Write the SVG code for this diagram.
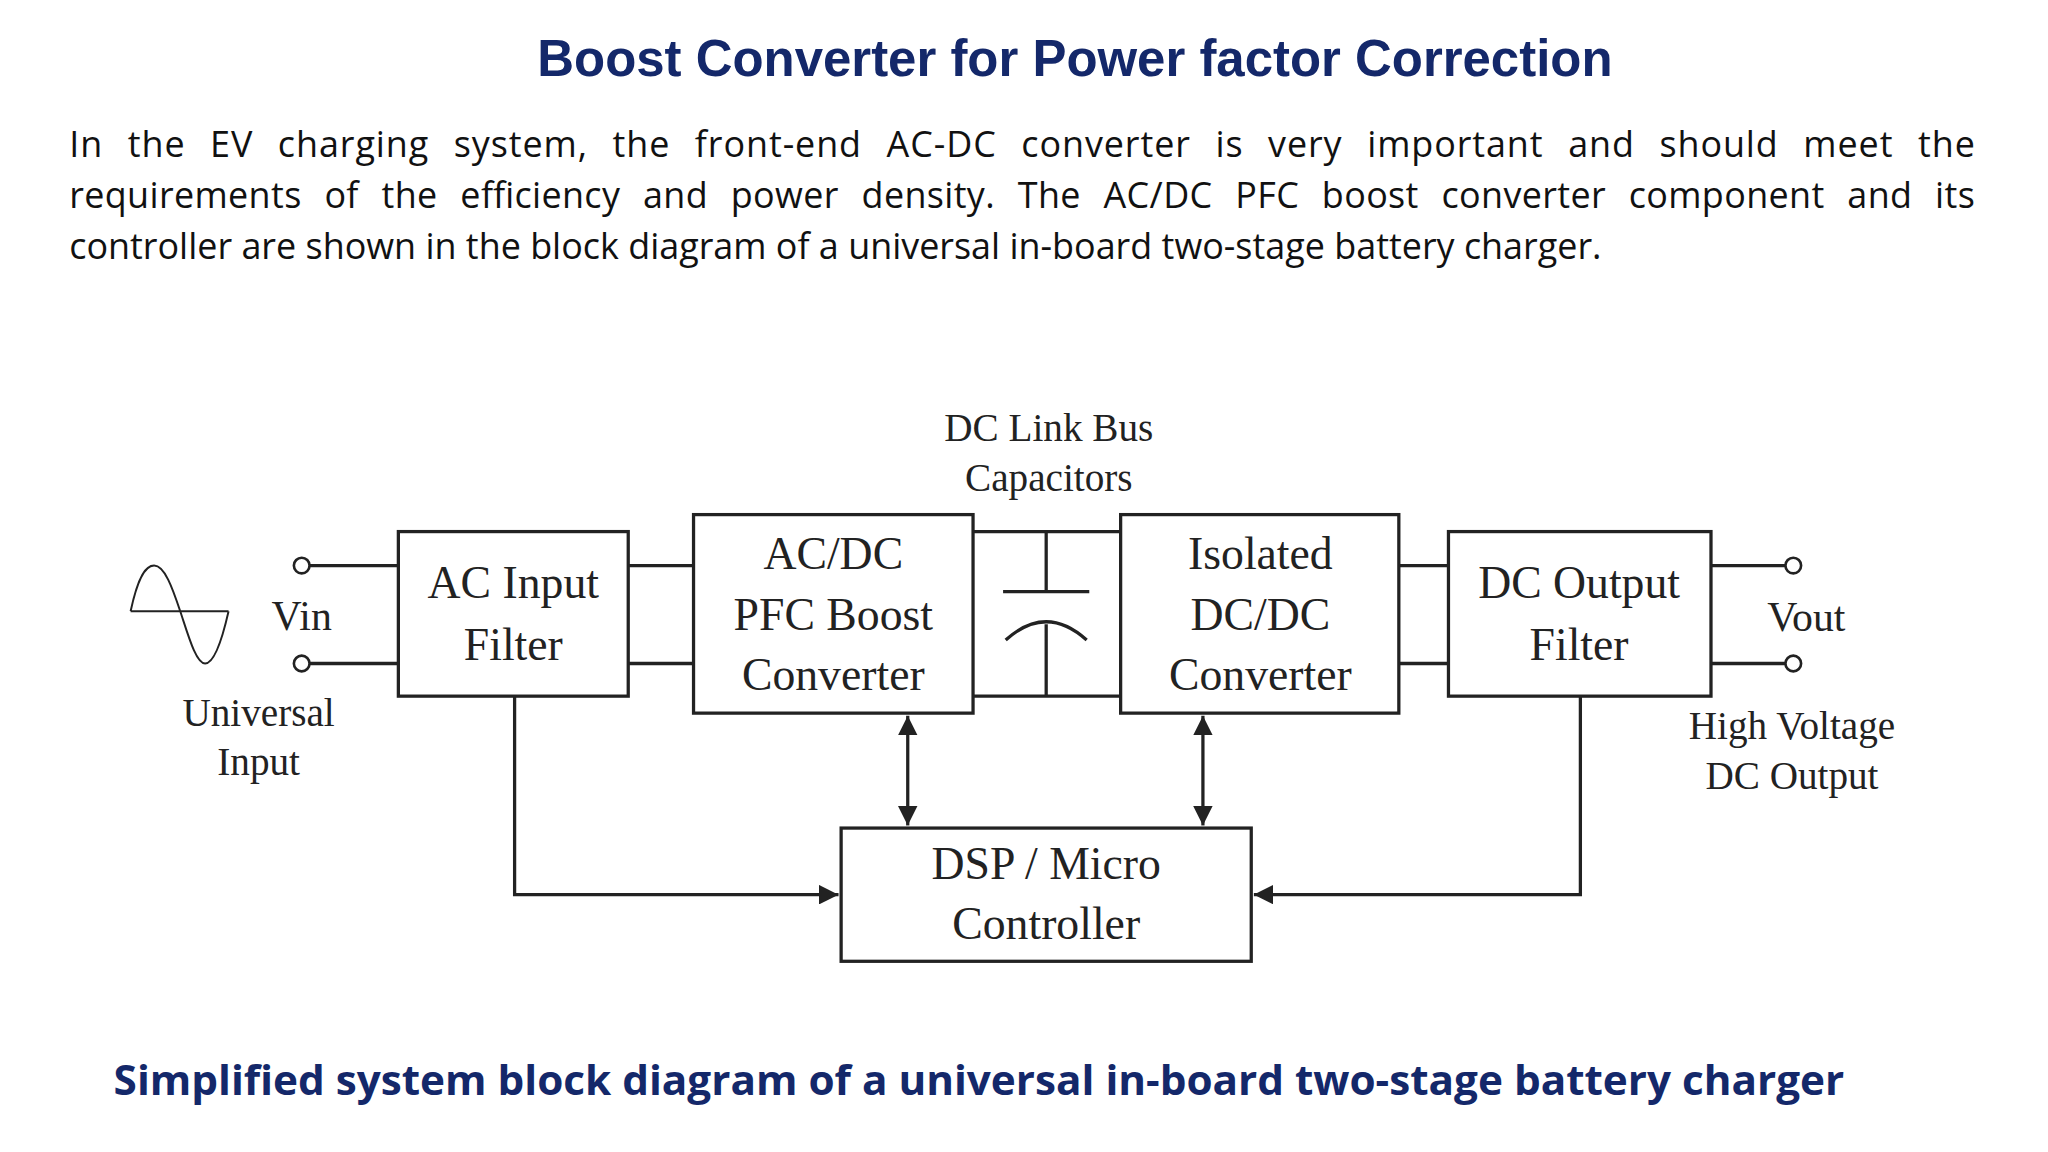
<svg xmlns="http://www.w3.org/2000/svg" width="2048" height="1152" viewBox="0 0 2048 1152">
<style>
.t{font-family:"Liberation Sans",Arial,sans-serif;font-weight:bold;fill:#14286a}
.p{font-family:"Open Sans","Noto Sans",sans-serif;font-size:27.5px;fill:#111}
.s{font-family:"Liberation Serif","Times New Roman",serif;fill:#222;text-anchor:middle}
.b{fill:#fff;stroke:#222;stroke-width:2.5}
.w{fill:none;stroke:#222;stroke-width:2.5}
.c{fill:#fff;stroke:#222;stroke-width:2}
</style>
<defs><marker id="a" viewBox="0 0 10 10" refX="10" refY="5" markerWidth="6" markerHeight="6" orient="auto-start-reverse"><path d="M0,0L10,5L0,10z" fill="#222"/></marker></defs>
<rect width="2048" height="1152" fill="#fff"/>
<g transform="scale(1.3061)">
<text class="t" x="823" y="58" font-size="39" text-anchor="middle">Boost Converter for Power factor Correction</text>
<text class="p" x="53" y="120" word-spacing="11" textLength="1459" lengthAdjust="spacing">In the EV charging system, the front-end AC-DC converter is very important and should meet the</text>
<text class="p" x="53" y="159" word-spacing="10" textLength="1459" lengthAdjust="spacing">requirements of the efficiency and power density. The AC/DC PFC boost converter component and its</text>
<text class="p" x="53" y="198">controller are shown in the block diagram of a universal in-board two-stage battery charger.</text>
<g id="connectors">
<path class="w" d="M237,433H305M237,508H305M481,433H531M481,508H531M745,407H858M745,533H858M1071,433H1109M1071,508H1109M1310,433H1367M1310,508H1367"/>
<path class="w" d="M801,407V453M768,453H834M801,478V533M770,490Q801,462 832,490"/>
<path class="w" d="M695,548V632" marker-start="url(#a)" marker-end="url(#a)"/>
<path class="w" d="M921,548V632" marker-start="url(#a)" marker-end="url(#a)"/>
<path class="w" d="M394,533V685H642" marker-end="url(#a)"/>
<path class="w" d="M1210,533V685H960" marker-end="url(#a)"/>
<circle class="c" cx="231" cy="433" r="6"/><circle class="c" cx="231" cy="508" r="6"/>
<circle class="c" cx="1373" cy="433" r="6"/><circle class="c" cx="1373" cy="508" r="6"/>
<path fill="none" stroke="#222" stroke-width="1.5" d="M100,468H175M100,468C106,440 112,433 118,433C126,433 132,450 138,468C144,486 150,508 157,508C164,508 170,490 175,468"/>
</g>
<g id="source"><text class="s" x="231" y="482" font-size="32">Vin</text><text class="s" x="198" y="556" font-size="30">Universal</text><text class="s" x="198" y="593" font-size="30">Input</text></g>
<g id="acfilter"><rect class="b" x="305" y="407" width="176" height="126"/><text class="s" x="393" y="458" font-size="35">AC Input</text><text class="s" x="393" y="505" font-size="35">Filter</text></g>
<g id="pfc"><rect class="b" x="531" y="394" width="214" height="152"/><text class="s" x="638" y="436" font-size="35">AC/DC</text><text class="s" x="638" y="482" font-size="35">PFC Boost</text><text class="s" x="638" y="528" font-size="35">Converter</text></g>
<g id="dclink"><text class="s" x="803" y="338" font-size="30">DC Link Bus</text><text class="s" x="803" y="376" font-size="30">Capacitors</text></g>
<g id="isolated"><rect class="b" x="858" y="394" width="213" height="152"/><text class="s" x="965" y="436" font-size="35">Isolated</text><text class="s" x="965" y="482" font-size="35">DC/DC</text><text class="s" x="965" y="528" font-size="35">Converter</text></g>
<g id="dcfilter"><rect class="b" x="1109" y="407" width="201" height="126"/><text class="s" x="1209" y="458" font-size="35">DC Output</text><text class="s" x="1209" y="505" font-size="35">Filter</text></g>
<g id="out"><text class="s" x="1383" y="483" font-size="32">Vout</text><text class="s" x="1372" y="566" font-size="30">High Voltage</text><text class="s" x="1372" y="604" font-size="30">DC Output</text></g>
<g id="dsp"><rect class="b" x="644" y="634" width="314" height="102"/><text class="s" x="801" y="673" font-size="35">DSP / Micro</text><text class="s" x="801" y="719" font-size="35">Controller</text></g>
<text class="t" x="87" y="838" font-size="32" textLength="1325" lengthAdjust="spacingAndGlyphs" style="font-family:'Open Sans','Noto Sans',sans-serif">Simplified system block diagram of a universal in-board two-stage battery charger</text>
</g>
</svg>
